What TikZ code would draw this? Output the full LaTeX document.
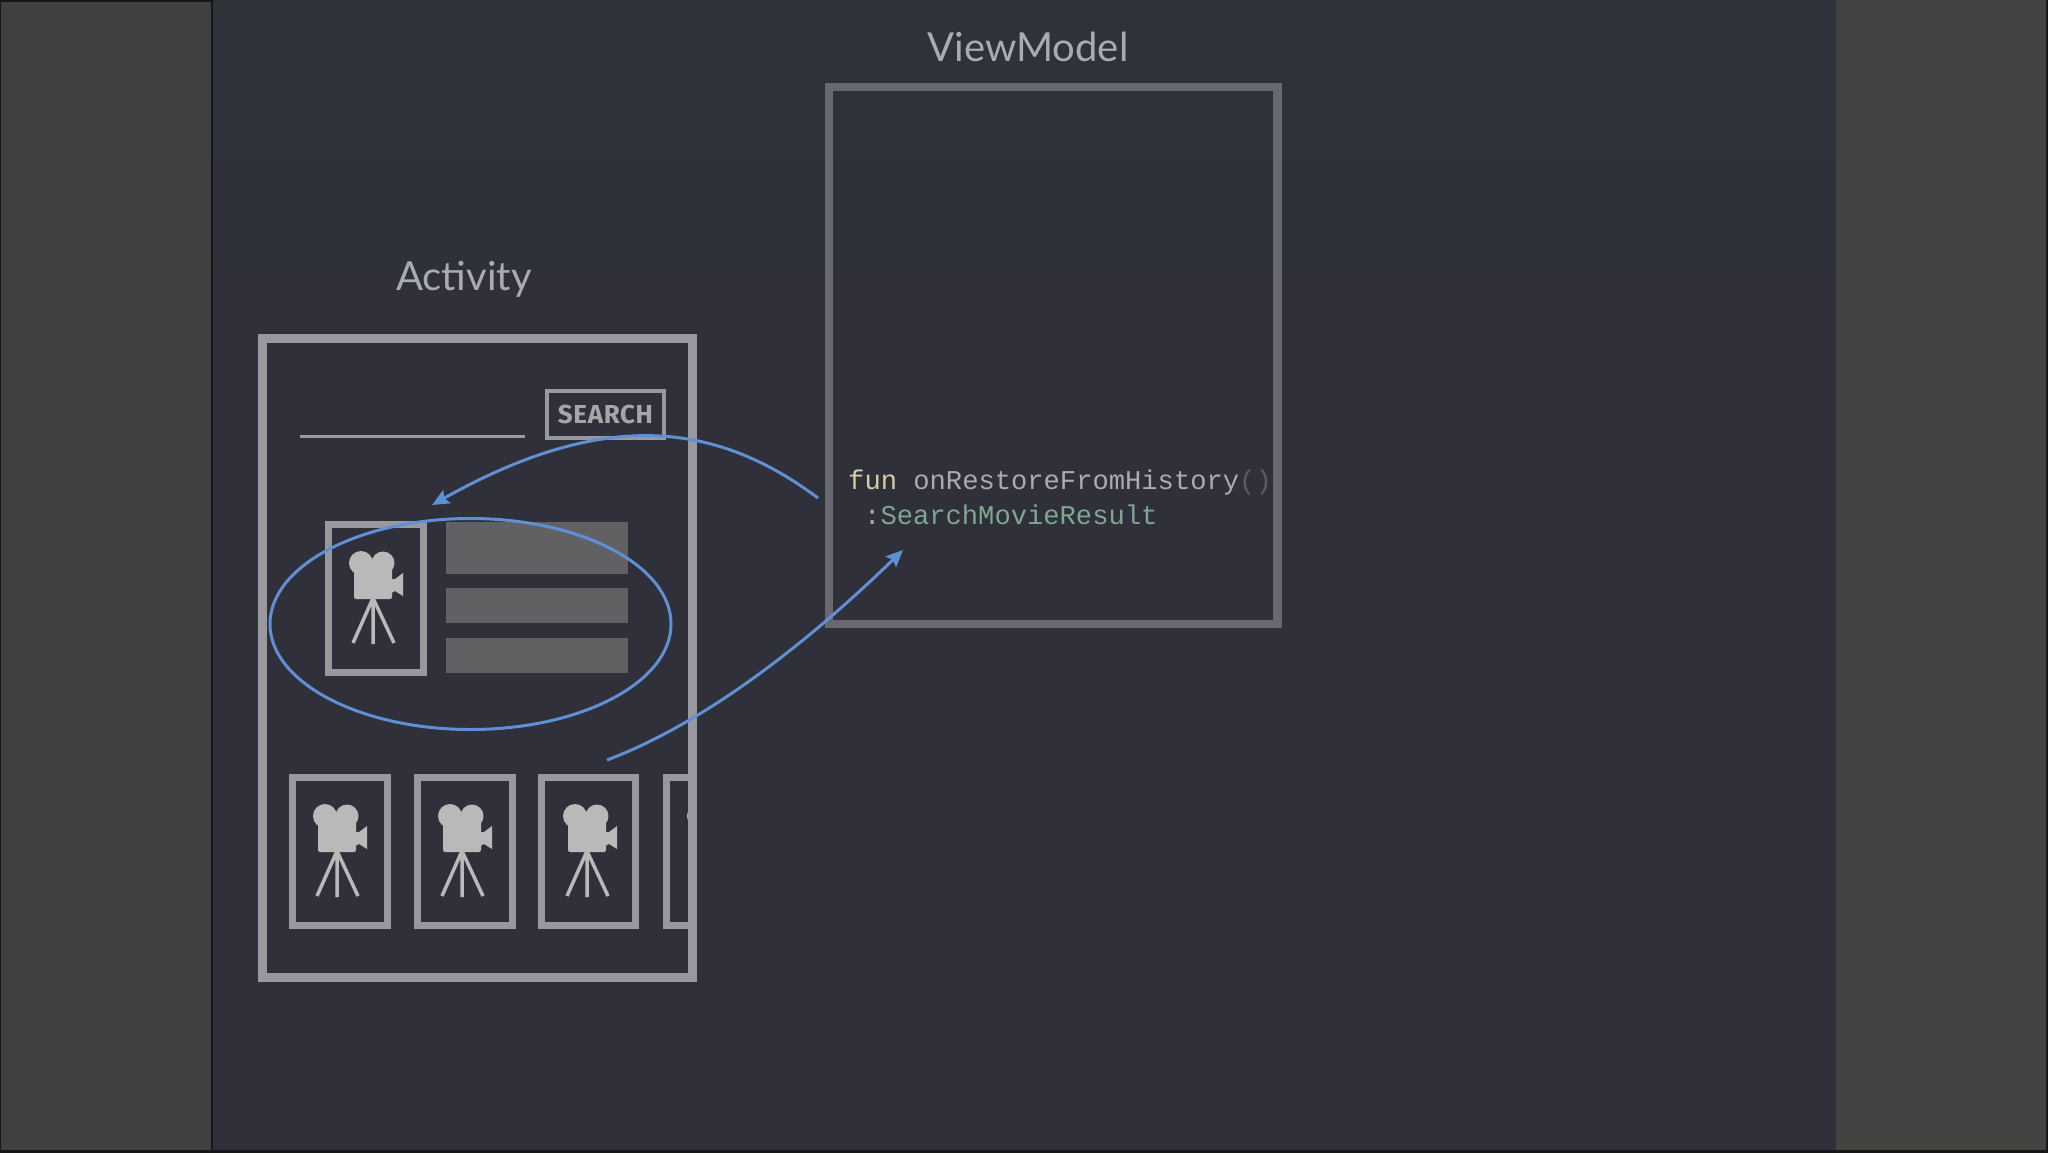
\documentclass[tikz,border=0pt]{standalone}
\usepackage{fontspec}
\setmainfont{Poppins}
\newfontfamily\titlefont{Lato}
\newfontfamily\btnfont{Fira Sans}
\newfontfamily\codefont{Liberation Mono}
\usetikzlibrary{arrows.meta,shapes.geometric}
\definecolor{bgmain}{HTML}{2F3039}
\definecolor{bgtop}{HTML}{2E333A}
\definecolor{bgside}{HTML}{404040}
\definecolor{bgsideR}{HTML}{424441}
\definecolor{edgeblack}{HTML}{17171A}
\definecolor{frameA}{HTML}{98989E}
\definecolor{frameV}{HTML}{68696E}
\definecolor{barfill}{HTML}{616163}
\definecolor{iconfill}{HTML}{B9B9BA}
\definecolor{blueline}{HTML}{5F90D4}
\definecolor{titlecol}{HTML}{A9ABB2}
\definecolor{btncol}{HTML}{A6A6AA}
\definecolor{codefun}{HTML}{D6CCA2}
\definecolor{codename}{HTML}{ABABAE}
\definecolor{codeparen}{HTML}{5A5B61}
\definecolor{codetype}{HTML}{7FA692}
\tikzset{
  x=1pt,y=-1pt,
  poster/.style={draw=frameA,line width=6.5pt,fill=none},
  actframe/.style={draw=frameA,line width=9pt},
  vmframe/.style={draw=frameV,line width=8.5pt},
  infobar/.style={fill=barfill,draw=none},
  ringline/.style={draw=blueline,line width=3pt},
  flowarrow/.style={draw=blueline,line width=3pt,-{Stealth[length=17pt,width=15pt,inset=3pt]}},
  titletext/.style={text=titlecol,font=\titlefont\fontsize{40}{40}\selectfont,anchor=base,inner sep=0pt},
  codetext/.style={font=\codefont\fontsize{27.15}{27.15}\selectfont,anchor=base west,inner sep=0pt},
  pics/camera/.style={code={
    \fill[iconfill] (-12,-37) circle (12);
    \fill[iconfill] (10,-37) circle (11.5);
    \fill[iconfill,rounded corners=2pt] (-19,-33) rectangle (19,-1);
    \fill[iconfill] (18,-21) -- (22,-21) -- (30,-27) -- (30,-4) -- (22,-9) -- (18,-7) -- cycle;
    \draw[iconfill,line width=3.5pt] (0,-2) -- (-20,43) (0,-2) -- (0,44) (0,-2) -- (21,43);
  }}
}
\begin{document}
\begin{tikzpicture}
\useasboundingbox (0,0) rectangle (2048,1152);
% backgrounds
\fill[bgmain] (0,0) rectangle (2048,1152);
\shade[top color=bgtop,bottom color=bgmain,shading angle=0] (212,0) rectangle (1836,320);
\fill[bgside] (0,0) rectangle (212,1152);
\fill[bgsideR] (1836,0) rectangle (2048,1152);
\draw[edgeblack,line width=2pt] (212,0) -- (212,1152);
\draw[edgeblack,line width=2pt] (0,0) -- (0,1152);
\draw[edgeblack,line width=3pt] (0,0) -- (212,0);
\draw[edgeblack,line width=3pt] (0,1151) -- (2048,1151);
\draw[edgeblack,line width=2pt] (2047,0) -- (2047,1152);
% titles
\node[titletext] (vmtitle) at (1028,61) {ViewModel};
\node[titletext] (acttitle) at (464,290) {Activity};
% viewmodel frame
\draw[vmframe] (829,87) rectangle (1277.5,624);
\node[codetext] (code1) at (848,489) {\textcolor{codefun}{fun} \textcolor{codename}{onRestoreFromHistory}\textcolor{codeparen}{()}};
\node[codetext] (code2) at (864,524) {\textcolor{codename}{:}\textcolor{codetype}{SearchMovieResult}};
% activity contents
\draw[draw=frameA,line width=3pt] (300,436) -- (525,436);
\node[draw=frameA,line width=4pt,minimum width=117pt,minimum height=47pt,inner sep=0pt,
  text=btncol,font=\btnfont\bfseries\fontsize{26}{26}\selectfont\addfontfeature{LetterSpace=2.5}] (searchbtn) at (605.5,414.5) {SEARCH};
% featured item
\draw[poster] (328.5,524.5) rectangle (423.5,672.5);
\pic at (373,600) {camera};
\fill[infobar] (446,522) rectangle (628,574);
\fill[infobar] (446,588) rectangle (628,623);
\fill[infobar] (446,638) rectangle (628,673);
% row of posters
\draw[poster] (292.5,777.5) rectangle (387.5,925.5);
\pic at (337,853) {camera};
\draw[poster] (417.5,777.5) rectangle (512.5,925.5);
\pic at (462,853) {camera};
\draw[poster] (541.5,777.5) rectangle (635.5,925.5);
\pic at (587,853) {camera};
\begin{scope}
\clip (650,760) rectangle (693,940);
\draw[poster] (666.5,777.5) rectangle (760,925.5);
\pic at (711,853) {camera};
\end{scope}
% activity frame
\draw[actframe] (262,338.5) rectangle (692.5,977.5);
% blue annotations
\node[ringline,ellipse,minimum width=401pt,minimum height=211pt,inner sep=0pt] (ring) at (470.5,624) {};
\coordinate (retstart) at (818,498);
\coordinate (rettip) at (432,505);
\coordinate (reqstart) at (607,760);
\coordinate (reqtip) at (903,550);
\draw[flowarrow] (retstart) .. controls (720,425) and (610,405) .. (rettip);
\draw[flowarrow] (reqstart) .. controls (700,725) and (800,650) .. (reqtip);
\end{tikzpicture}
\end{document}
